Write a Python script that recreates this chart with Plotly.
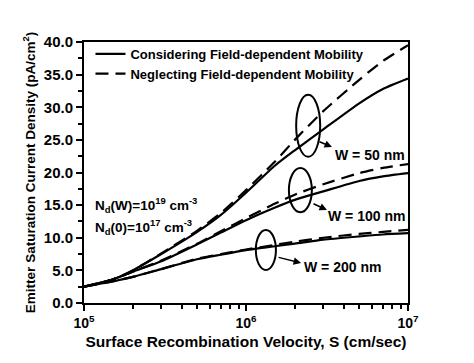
import plotly.graph_objects as go

# ---- data ----
S = [1e5, 1.5e5, 2e5, 3e5, 5e5, 7e5, 1e6, 1.5e6, 2e6, 3e6, 5e6, 7e6, 1e7]
w50_field = [2.5, 3.6, 5.0, 7.5, 10.9, 13.5, 16.9, 21.0, 23.4, 26.6, 30.6, 32.8, 34.4]
w50_nofield = [2.5, 3.6, 5.0, 7.6, 11.1, 13.8, 17.3, 21.6, 25.0, 29.4, 34.2, 37.1, 39.5]
w100_field = [2.5, 3.6, 4.8, 6.4, 9.0, 10.8, 12.7, 14.6, 15.8, 17.1, 18.7, 19.4, 19.9]
w100_nofield = [2.5, 3.6, 4.8, 6.5, 9.1, 11.0, 13.0, 15.2, 16.6, 18.2, 19.9, 20.7, 21.3]
w200_field = [2.5, 3.3, 4.0, 5.2, 6.7, 7.4, 8.1, 8.7, 9.1, 9.7, 10.2, 10.5, 10.7]
w200_nofield = [2.5, 3.3, 4.0, 5.2, 6.8, 7.5, 8.2, 8.9, 9.4, 10.0, 10.6, 10.9, 11.2]

x_tickvals = [1e5, 1e6, 1e7]
x_ticktext = ["10<sup>5</sup>", "10<sup>6</sup>", "10<sup>7</sup>"]
y_tickvals = [0, 5, 10, 15, 20, 25, 30, 35, 40]
y_ticktext = ["0.0", "5.0", "10.0", "15.0", "20.0", "25.0", "30.0", "35.0", "40.0"]

FONT = "Liberation Sans, Arial, sans-serif"
LW = 2.2
DASH = "13px,7px"

fig = go.Figure()
series = [
    (w50_field, "solid", "Considering Field-dependent Mobility", True),
    (w50_nofield, DASH, "Neglecting Field-dependent Mobility", True),
    (w100_field, "solid", None, False),
    (w100_nofield, DASH, None, False),
    (w200_field, "solid", None, False),
    (w200_nofield, DASH, None, False),
]
for ys, dash, name, show in series:
    fig.add_trace(go.Scatter(
        x=S, y=ys, mode="lines", name=name, showlegend=show,
        line=dict(color="black", width=LW, dash=dash, shape="spline", smoothing=0.6),
    ))

# ellipses (shapes use data values on log axes)
for (x0, x1, y0, y1) in [(2.04e6, 2.87e6, 22.4, 31.9),
                         (1.84e6, 2.55e6, 13.9, 20.7),
                         (1.15e6, 1.53e6, 5.06, 11.2)]:
    fig.add_shape(type="circle", xref="x", yref="y", x0=x0, x1=x1, y0=y0, y1=y1,
                  line=dict(color="black", width=2))

# arrows from ellipses to labels (annotations use log10 on log axes)
for (hx, hy, ax, ay) in [(6.531, 23.9, -14, -6), (6.50, 14.25, -15, -7), (6.34, 6.13, -24, -6)]:
    fig.add_annotation(x=hx, y=hy, text="", showarrow=True, ax=ax, ay=ay,
                       arrowhead=2, arrowsize=1, arrowwidth=1.5, arrowcolor="black")

for (tx, ty, txt) in [(6.765, 22.7, "W = 50 nm"), (6.741, 13.3, "W = 100 nm"), (6.593, 5.5, "W = 200 nm")]:
    fig.add_annotation(x=tx, y=ty, text=txt, showarrow=False,
                       font=dict(family=FONT, size=14, color="black", weight="bold"))

fig.add_annotation(x=5.056, y=15.0, xanchor="left", yanchor="middle", showarrow=False,
                   text="N<sub>d</sub>(W)=10<sup>19</sup> cm<sup>-3</sup>",
                   font=dict(family=FONT, size=13.5, color="black", weight="bold"))
fig.add_annotation(x=5.056, y=11.6, xanchor="left", yanchor="middle", showarrow=False,
                   text="N<sub>d</sub>(0)=10<sup>17</sup> cm<sup>-3</sup>",
                   font=dict(family=FONT, size=13.5, color="black", weight="bold"))

fig.update_layout(
    width=466, height=355,
    margin=dict(l=76, r=66, t=34, b=60),
    paper_bgcolor="white", plot_bgcolor="white",
    font=dict(family=FONT, size=13, color="black", weight="bold"),
    legend=dict(x=0.02, y=1.012, xanchor="left", yanchor="top", bgcolor="rgba(0,0,0,0)",
                font=dict(family=FONT, size=13, color="black", weight="bold"),
                tracegroupgap=0, itemwidth=30),
)
fig.update_xaxes(
    type="log", range=[5, 7], tickvals=x_tickvals, ticktext=x_ticktext,
    showgrid=False, zeroline=False,
    showline=True, linecolor="black", linewidth=2, mirror=True,
    ticks="outside", ticklen=6, tickwidth=2, tickcolor="black",
    minor=dict(ticks="outside", ticklen=4, tickwidth=2, tickcolor="black", dtick="D1", showgrid=False),
    tickfont=dict(family=FONT, size=14, color="black", weight="bold"),
    title=dict(text="Surface Recombination Velocity, S (cm/sec)", standoff=6,
               font=dict(family=FONT, size=15.5, color="black", weight="bold")),
)
fig.update_yaxes(
    range=[0, 40], tickvals=y_tickvals, ticktext=y_ticktext,
    showgrid=False, zeroline=False,
    showline=True, linecolor="black", linewidth=2, mirror=True,
    ticks="outside", ticklen=6, tickwidth=2, tickcolor="black",
    minor=dict(ticks="outside", ticklen=4, tickwidth=2, tickcolor="black", dtick=2.5, showgrid=False),
    tickfont=dict(family=FONT, size=15, color="black", weight="bold"),
    title=dict(text="Emitter Saturation Current Density (pA/cm<sup>2</sup>)", standoff=5,
               font=dict(family=FONT, size=13.5, color="black", weight="bold")),
)

fig.write_html("out.html")
